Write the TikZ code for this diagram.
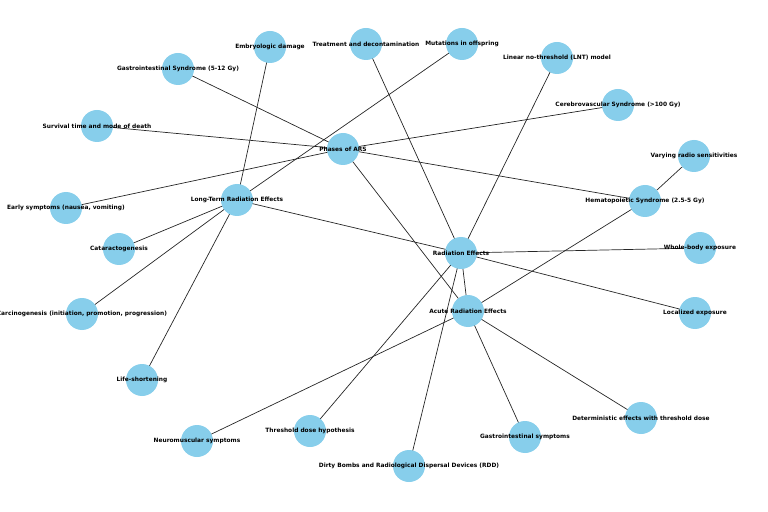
\documentclass[tikz,border=0pt]{standalone}
\usepackage{fontspec}
\setmainfont{DejaVu Sans}
\definecolor{skyblue}{HTML}{87CEEB}
\begin{document}
\begin{tikzpicture}[x=1bp,y=-1bp,
  nd/.style={circle,fill=skyblue,minimum size=32bp,inner sep=0pt},
  lb/.style={font=\fontsize{5.9}{7}\selectfont\bfseries,inner sep=0pt},
  ed/.style={draw=black!85,line width=0.7bp}]
\useasboundingbox (0,0) rectangle (768,512);
% nodes (circles)
\foreach \n/\x/\y in {emb/270/47, trt/366/44, mut/462/44, lnt/557/58, gis/178/69, cer/618/105,
  sur/97/126, pha/343/149, var/694/156, lte/237/200, hem/645/201, ear/66/208, cat/119/249,
  rad/461/253, who/700/248, acu/468/311, loc/695/313, car/82/314, lif/142/380, det/641/418,
  thr/310/431, neu/197/441, gsy/525/437, dir/409/466}
  {\coordinate (\n) at (\x,\y);}
% edges
\foreach \a/\b in {gis/pha, sur/pha, ear/pha, cer/pha, hem/pha, pha/acu,
  hem/var, hem/acu,
  rad/lte, rad/who, rad/loc, rad/lnt, rad/trt, rad/acu, rad/thr, rad/dir,
  acu/neu, acu/gsy, acu/det,
  lte/emb, lte/mut, lte/cat, lte/car, lte/lif}
  {\draw[ed] (\a) -- (\b);}
\foreach \n in {emb,trt,mut,lnt,gis,cer,sur,pha,var,lte,hem,ear,cat,rad,who,acu,loc,car,lif,det,thr,neu,gsy,dir}
  {\node[nd] (c\n) at (\n) {};}
% labels
\node[lb] (l1) at (emb) {Embryologic damage};
\node[lb] (l2) at (trt) {Treatment and decontamination};
\node[lb] (l3) at (mut) {Mutations in offspring};
\node[lb] (l4) at (lnt) {Linear no-threshold (LNT) model};
\node[lb] (l5) at (gis) {Gastrointestinal Syndrome (5-12 Gy)};
\node[lb] (l6) at (cer) {Cerebrovascular Syndrome (>100 Gy)};
\node[lb] (l7) at (sur) {Survival time and mode of death};
\node[lb] (l8) at (pha) {Phases of ARS};
\node[lb] (l9) at (var) {Varying radio sensitivities};
\node[lb] (l10) at (lte) {Long-Term Radiation Effects};
\node[lb] (l11) at (hem) {Hematopoietic Syndrome (2.5-5 Gy)};
\node[lb] (l12) at (ear) {Early symptoms (nausea, vomiting)};
\node[lb] (l13) at (cat) {Cataractogenesis};
\node[lb] (l14) at (rad) {Radiation Effects};
\node[lb] (l15) at (who) {Whole-body exposure};
\node[lb] (l16) at (acu) {Acute Radiation Effects};
\node[lb] (l17) at (loc) {Localized exposure};
\node[lb] (l18) at (car) {Carcinogenesis (initiation, promotion, progression)};
\node[lb] (l19) at (lif) {Life-shortening};
\node[lb] (l20) at (det) {Deterministic effects with threshold dose};
\node[lb] (l21) at (thr) {Threshold dose hypothesis};
\node[lb] (l22) at (neu) {Neuromuscular symptoms};
\node[lb] (l23) at (gsy) {Gastrointestinal symptoms};
\node[lb] (l24) at (dir) {Dirty Bombs and Radiological Dispersal Devices (RDD)};
\end{tikzpicture}
\end{document}
